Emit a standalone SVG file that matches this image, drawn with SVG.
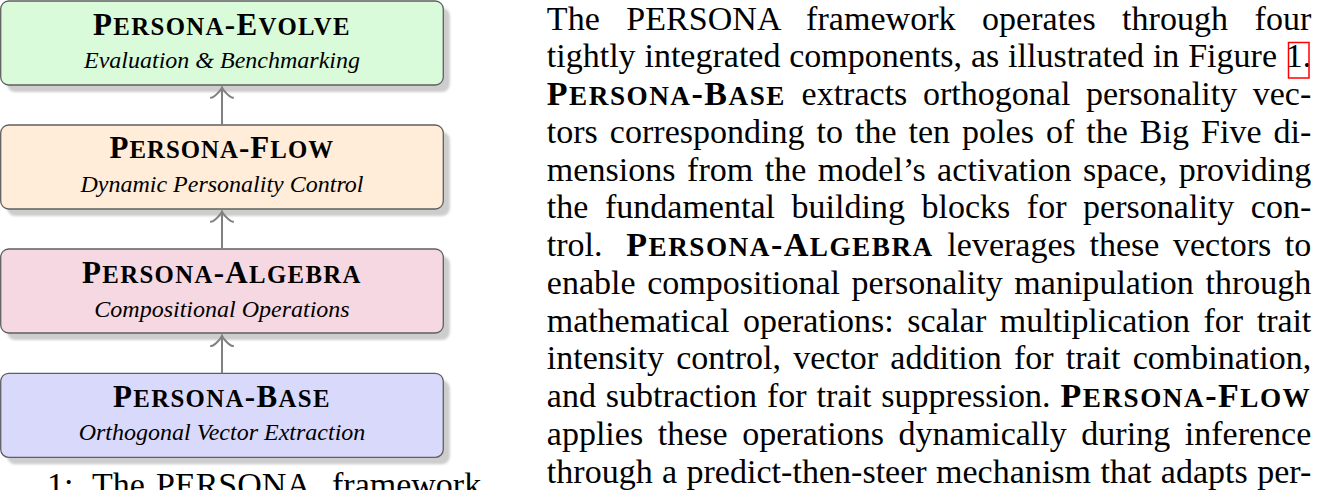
<svg xmlns="http://www.w3.org/2000/svg" width="1318" height="490" viewBox="0 0 1318 490">
<style>
text { font-family: "Liberation Serif", "Times New Roman", serif; fill: #000; }
.body { font-size: 34px; }
.b { font-weight: bold; letter-spacing: 1.5px; }
.sc { font-size: 27.2px; }
.title { font-size: 31px; font-weight: bold; letter-spacing: 1.5px; text-anchor: middle; }
.title .sc { font-size: 24.8px; }
.sub { font-size: 24px; font-style: italic; text-anchor: middle; }
.box { stroke: #5f5f5f; stroke-width: 1.3; }
.shadow { fill: #cdcdcd; filter: url(#blur); }
.conn { stroke: #808080; stroke-width: 2; fill: none; marker-end: url(#arr); }
</style>
<defs>
<filter id="blur" x="-5%" y="-20%" width="110%" height="140%"><feGaussianBlur stdDeviation="1.2"/></filter>
<marker id="arr" viewBox="-13 -13 26 26" markerWidth="26" markerHeight="26" refX="0" refY="0" orient="auto" markerUnits="userSpaceOnUse">
<path d="M -10.3 -11 C -9.6 -6.9 -2.1 -0.7 0 0 C -2.1 0.7 -9.6 6.9 -10.3 11" fill="none" stroke="#808080" stroke-width="2" stroke-linecap="round"/>
</marker>
</defs>
<rect width="1318" height="490" fill="#ffffff"/>

<g id="node-evolve">
<rect class="shadow" x="7.2" y="8" width="442.6" height="84" rx="8"/>
<rect class="box" x="0.7" y="1" width="442.6" height="84" rx="8" fill="#d9fbd9"/>
<text class="title" x="222" y="34.5" textLength="258" lengthAdjust="spacing">P<tspan class="sc">ERSONA</tspan>-E<tspan class="sc">VOLVE</tspan></text>
<text class="sub" x="222" y="68">Evaluation &amp; Benchmarking</text>
</g>

<g id="node-flow">
<rect class="shadow" x="7.2" y="132" width="442.6" height="84" rx="8"/>
<rect class="box" x="0.7" y="125" width="442.6" height="84" rx="8" fill="#ffecd9"/>
<text class="title" x="222" y="158.3" textLength="225" lengthAdjust="spacing">P<tspan class="sc">ERSONA</tspan>-F<tspan class="sc">LOW</tspan></text>
<text class="sub" x="222" y="192.3">Dynamic Personality Control</text>
</g>

<g id="node-algebra">
<rect class="shadow" x="7.2" y="256" width="442.6" height="84" rx="8"/>
<rect class="box" x="0.7" y="249" width="442.6" height="84" rx="8" fill="#f5d8e1"/>
<text class="title" x="222" y="282.6" textLength="280" lengthAdjust="spacing">P<tspan class="sc">ERSONA</tspan>-A<tspan class="sc">LGEBRA</tspan></text>
<text class="sub" x="222" y="316.5">Compositional Operations</text>
</g>

<g id="node-base">
<rect class="shadow" x="7.2" y="380.3" width="442.6" height="84" rx="8"/>
<rect class="box" x="0.7" y="373.3" width="442.6" height="84" rx="8" fill="#d9d9fb"/>
<text class="title" x="222" y="406.7" textLength="218" lengthAdjust="spacing">P<tspan class="sc">ERSONA</tspan>-B<tspan class="sc">ASE</tspan></text>
<text class="sub" x="222" y="440.3">Orthogonal Vector Extraction</text>
</g>

<g id="connectors">
<line class="conn" x1="222" y1="125" x2="222" y2="87.5"/>
<line class="conn" x1="222" y1="249" x2="222" y2="211.5"/>
<line class="conn" x1="222" y1="373.3" x2="222" y2="335.8"/>
</g>

<g id="caption">
<text class="body" y="495.5"><tspan x="47">1:</tspan><tspan x="92">The</tspan><tspan x="156">PERSONA</tspan><tspan x="332">framework</tspan></text>
</g>

<g id="body-text">
<text class="body" x="546.8" y="29.5" textLength="764.5" lengthAdjust="spacing" style="word-spacing:17.8px">The PERSONA framework operates through four</text>
<text class="body" x="546.8" y="67.25" textLength="764.5" lengthAdjust="spacing" style="word-spacing:0.3px">tightly integrated components, as illustrated in Figure 1.</text>
<rect x="1288.5" y="42.5" width="20.5" height="35.5" fill="none" stroke="#ff0000" stroke-width="1.5"/>
<text class="body" x="546.8" y="105" textLength="764.5" lengthAdjust="spacing" style="word-spacing:7.1px"><tspan class="b">P<tspan class="sc">ERSONA</tspan>-B<tspan class="sc">ASE</tspan></tspan> extracts orthogonal personality vec-</text>
<text class="body" x="546.8" y="142.75" textLength="764.5" lengthAdjust="spacing" style="word-spacing:3.5px">tors corresponding to the ten poles of the Big Five di-</text>
<text class="body" x="546.8" y="180.5" textLength="764.5" lengthAdjust="spacing" style="word-spacing:2.8px">mensions from the model’s activation space, providing</text>
<text class="body" x="546.8" y="218.25" textLength="764.5" lengthAdjust="spacing" style="word-spacing:8px">the fundamental building blocks for personality con-</text>
<text class="body" x="546.8" y="256" textLength="764.5" lengthAdjust="spacing" style="word-spacing:5.1px">trol. <tspan class="b" dx="10">P<tspan class="sc">ERSONA</tspan>-A<tspan class="sc">LGEBRA</tspan></tspan> leverages these vectors to</text>
<text class="body" x="546.8" y="293.75" textLength="764.5" lengthAdjust="spacing" style="word-spacing:3.1px">enable compositional personality manipulation through</text>
<text class="body" x="546.8" y="331.5" textLength="764.5" lengthAdjust="spacing" style="word-spacing:5.2px">mathematical operations: scalar multiplication for trait</text>
<text class="body" x="546.8" y="369.25" textLength="764.5" lengthAdjust="spacing" style="word-spacing:3.6px">intensity control, vector addition for trait combination,</text>
<text class="body" x="546.8" y="407" textLength="764.5" lengthAdjust="spacing" style="word-spacing:1.4px">and subtraction for trait suppression. <tspan class="b">P<tspan class="sc">ERSONA</tspan>-F<tspan class="sc">LOW</tspan></tspan></text>
<text class="body" x="546.8" y="444.75" textLength="764.5" lengthAdjust="spacing" style="word-spacing:6.1px">applies these operations dynamically during inference</text>
<text class="body" x="546.8" y="482.5" textLength="764.5" lengthAdjust="spacing" style="word-spacing:0.8px">through a predict-then-steer mechanism that adapts per-</text>
</g>
</svg>
